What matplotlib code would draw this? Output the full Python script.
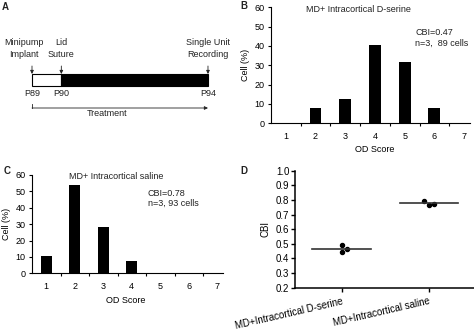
import numpy as np
import matplotlib
matplotlib.use('Agg')
import matplotlib.pyplot as plt
from matplotlib.patches import Rectangle

plt.rcParams['font.family'] = ['Liberation Sans', 'DejaVu Sans']
plt.rcParams['font.size'] = 6.5
plt.rcParams['text.color'] = '#222222'

# timeline (schematic units, one unit per day slot)
stage_labels = ['P89', 'P90', 'P94']
stage_pos = [0, 1, 6]
event_labels = ['Minipump\nImplant', 'Lid\nSuture', 'Single Unit\nRecording']

# OD score distributions (% of cells)
od_scores = [1, 2, 3, 4, 5, 6, 7]
dserine_pct = [0, 7.9, 12.4, 40.4, 31.5, 7.9, 0]
saline_pct = [10.8, 53.8, 28.0, 7.5, 0, 0, 0]

# CBI per animal
groups = ['MD+Intracortical D-serine', 'MD+Intracortical saline']
cbi_dserine = [0.495, 0.441, 0.468]
cbi_saline = [0.793, 0.766, 0.775]

W, H = 474, 331
fig = plt.figure(figsize=(W / 100, H / 100), dpi=100)


def px_axes(x0, y0, x1, y1):
    return fig.add_axes([x0 / W, 1 - y1 / H, (x1 - x0) / W, (y1 - y0) / H])


# ---- A: experiment timeline
axA = px_axes(0, 0, 237, 165)
axA.set_xlim(-32 / 29.33, 205 / 29.33)
axA.set_ylim(165, 0)
axA.axis('off')
axA.add_patch(Rectangle((stage_pos[0], 74), stage_pos[1] - stage_pos[0], 11.5,
                        fc='white', ec='black', lw=0.8))
axA.add_patch(Rectangle((stage_pos[1], 74), stage_pos[2] - stage_pos[1], 11.5,
                        fc='black', ec='black', lw=0.8))
shift = [-0.26, 0, 0]
for p, lab, ev, s in zip(stage_pos, stage_labels, event_labels, shift):
    axA.annotate('', xy=(p, 74), xytext=(p, 66),
                 arrowprops=dict(arrowstyle='-|>', lw=0.6, color='#222222',
                                 mutation_scale=5, shrinkA=0, shrinkB=0))
    axA.text(p + s, 48.5, ev, ha='center', va='center', linespacing=1.3)
    axA.text(p, 93, lab, ha='center', va='center')
axA.plot([stage_pos[0], stage_pos[0]], [104, 108], color='#222222', lw=0.6)
axA.annotate('', xy=(stage_pos[-1], 108), xytext=(stage_pos[0], 108),
             arrowprops=dict(arrowstyle='-|>', lw=0.6, color='#222222',
                             mutation_scale=5, shrinkA=0, shrinkB=0))
axA.text(2.55, 113.5, 'Treatment', ha='center', va='center')


def od_hist(ax, values, title):
    ax.bar(od_scores, values, width=0.4, color='black')
    ax.set_xlim(0.5, 7.2)
    ax.set_ylim(0, 60)
    ax.set_yticks(range(0, 61, 10))
    ax.set_xticks(od_scores)
    ax.set_xticks(np.arange(1.5, 7, 1), minor=True)
    ax.tick_params(axis='x', which='major', length=0, pad=6)
    ax.tick_params(axis='x', which='minor', length=2.5, width=0.8)
    ax.tick_params(axis='y', length=2.5, width=0.8, pad=2)
    for side in ['top', 'right']:
        ax.spines[side].set_visible(False)
    for side in ['left', 'bottom']:
        ax.spines[side].set_linewidth(0.8)
    ax.set_xlabel('OD Score')
    ax.set_ylabel('Cell (%)')
    ax.text(0.44, 0.98, title, transform=ax.transAxes, ha='center', va='center')
    return ax


# ---- B: D-serine
axB = px_axes(271, 7.3, 470, 123.3)
od_hist(axB, dserine_pct, 'MD+ Intracortical D-serine')
axB.text(0.724, 0.82, 'CBI=0.47\nn=3,  89 cells', transform=axB.transAxes,
         va='top', linespacing=1.2)
axB.xaxis.set_label_coords(0.52, -0.19)
axB.yaxis.set_label_coords(-0.105, 0.5)

# ---- C: saline
axC = px_axes(32, 175, 223, 273.3)
od_hist(axC, saline_pct, 'MD+ Intracortical saline')
axC.text(0.607, 0.86, 'CBI=0.78\nn=3, 93 cells', transform=axC.transAxes,
         va='top', linespacing=1.2)
axC.xaxis.set_label_coords(0.49, -0.23)
axC.yaxis.set_label_coords(-0.11, 0.5)

# ---- D: CBI scatter with mean
axD = px_axes(295, 170.7, 474, 287.7)
jitter = [[0, 0, 0.065], [-0.057, 0.0, 0.06]]
for i, vals in enumerate([cbi_dserine, cbi_saline]):
    xpos = i + 1 + np.array(jitter[i])
    axD.plot(xpos, vals, 'o', color='black', ms=2.9)
    m = np.mean(vals)
    axD.plot([i + 1 - 0.335, i + 1 + 0.335], [m, m], color='#333333', lw=1.2)
axD.set_xlim(0.465, 2.515)
axD.set_ylim(0.2, 1.0)
axD.set_yticks(np.arange(0.2, 1.01, 0.1))
axD.set_yticklabels(['%.1f' % v for v in np.arange(0.2, 1.01, 0.1)], fontsize=7)
axD.set_xticks([1, 2])
axD.set_xticklabels(groups, rotation=13, ha='right', rotation_mode='anchor', fontsize=7)
axD.tick_params(axis='x', length=3, width=1, pad=3)
axD.tick_params(axis='y', length=3, width=1, pad=1)
for side in ['top', 'right']:
    axD.spines[side].set_visible(False)
for side in ['left', 'bottom']:
    axD.spines[side].set_linewidth(1.1)
axD.set_ylabel('CBI', fontsize=7)
axD.yaxis.set_label_coords(-0.135, 0.5)

# panel letters
for lab, x, y in [('A', 2, 2), ('B', 240, 1), ('C', 4, 166), ('D', 240, 166)]:
    fig.text(x / W, 1 - y / H, lab, ha='left', va='top', fontsize=7, fontweight='bold')

fig.savefig('out.png', dpi=100)
